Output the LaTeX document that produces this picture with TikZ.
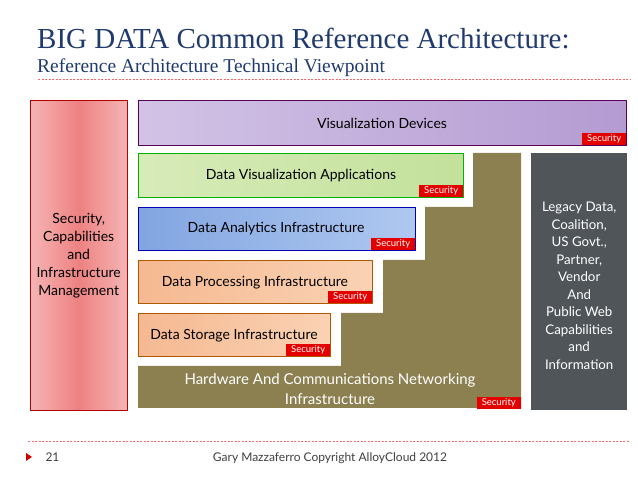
\documentclass[tikz,border=0pt]{standalone}
\usepackage{fontspec}
\setmainfont{Lato}
\newfontfamily\ttl{Liberation Serif}
\begin{document}
\begin{tikzpicture}[x=1pt,y=-1pt,
  lay/.style={draw=#1!70!black,line width=0.4pt,anchor=north west,inner sep=0pt},
  sec/.style={fill=red!90!black,text=white,font=\fontsize{9.5}{10}\selectfont,minimum width=44pt,minimum height=12pt,inner sep=0pt,anchor=south east},
  lbl/.style={font=\fontsize{14}{18}\selectfont,text=black}]
\useasboundingbox (0,0) rectangle (638,478);
\fill[white] (0,0) rectangle (638,478);
\node[anchor=base west,text={rgb,255:red,31;green,58;blue,110},font=\ttl\fontsize{29}{30}\selectfont,inner sep=0pt] (title) at (37,49) {BIG DATA Common Reference Architecture:};
\node[anchor=base west,text={rgb,255:red,31;green,58;blue,110},font=\ttl\fontsize{19.5}{20}\selectfont,inner sep=0pt] (sub) at (37,73) {Reference Architecture Technical Viewpoint};
\draw[red!60,dashed,line width=0.5pt,dash pattern=on 2pt off 1.5pt] (38,79) -- (630,79);
% olive staircase
\fill[fill={rgb,255:red,140;green,128;blue,80}] (138,408) -- (138,366) -- (341,366) -- (341,313) -- (383,313) -- (383,260) -- (425,260) -- (425,207) -- (473,207) -- (473,153) -- (521,153) -- (521,408) -- cycle;
\node[text=white,font=\fontsize{15}{20}\selectfont,align=center] (hw) at (330,389) {Hardware And Communications Networking\\Infrastructure};
\node[sec] (s0) at (521,409) {Security};
% left box
\node[lay=red,left color={rgb,255:red,245;green,180;blue,180},right color={rgb,255:red,245;green,180;blue,180},middle color={rgb,255:red,238;green,130;blue,130},minimum width=97pt,minimum height=310pt] (secm) at (30,100) {};
\node[lbl,align=center] at (secm.center) {Security,\\Capabilities\\and\\Infrastructure\\Management};
% right box
\node[fill={rgb,255:red,80;green,85;blue,90},anchor=north west,minimum width=96pt,minimum height=257pt,inner sep=0pt] (leg) at (531,153) {};
\node[text=white,font=\fontsize{13.3}{17.5}\selectfont,align=center] at ([yshift=-4pt]leg.center) {Legacy Data,\\Coalition,\\US Govt.,\\Partner,\\Vendor\\And\\Public Web\\Capabilities\\and\\Information};
% visualization devices
\node[lay=violet,left color={rgb,255:red,210;green,195;blue,230},right color={rgb,255:red,180;green,155;blue,210},minimum width=488pt,minimum height=45pt] (vd) at (138,100) {};
\node[lbl] at (382,123) {Visualization Devices};
\node[sec] at (vd.south east) {Security};
% green
\node[lay=green,left color={rgb,255:red,215;green,235;blue,185},right color={rgb,255:red,195;green,225;blue,155},minimum width=325pt,minimum height=44pt] (dva) at (138,153) {};
\node[lbl] at (301,176) {Data Visualization Applications};
\node[sec] at (dva.south east) {Security};
% blue
\node[lay=blue,left color={rgb,255:red,130;green,165;blue,225},right color={rgb,255:red,175;green,200;blue,240},minimum width=277pt,minimum height=43pt] (dai) at (138,207) {};
\node[lbl] at (276,229) {Data Analytics Infrastructure};
\node[sec] at (dai.south east) {Security};
% orange
\node[lay=orange,left color={rgb,255:red,245;green,185;blue,145},right color={rgb,255:red,250;green,210;blue,180},minimum width=234pt,minimum height=43pt] (dpi) at (138,260) {};
\node[lbl] at (255,283) {Data Processing Infrastructure};
\node[sec] at (dpi.south east) {Security};
\node[lay=orange,left color={rgb,255:red,245;green,185;blue,145},right color={rgb,255:red,250;green,210;blue,180},minimum width=192pt,minimum height=43pt] (dsi) at (138,313) {};
\node[lbl] at (234,336) {Data Storage Infrastructure};
\node[sec] at (dsi.south east) {Security};
% footer
\draw[red!60,dashed,dash pattern=on 2pt off 1.5pt] (28,441) -- (630,441);
\fill[red!80!black] (26,453) -- (32,457) -- (26,461) -- cycle;
\node[anchor=base west,font=\fontsize{12}{14}\selectfont,text=black!75] (pg) at (42,462) {21};
\node[anchor=base,font=\fontsize{12}{14}\selectfont,text=black!75] (ft) at (330,462) {Gary Mazzaferro Copyright AlloyCloud 2012};
\end{tikzpicture}
\end{document}
